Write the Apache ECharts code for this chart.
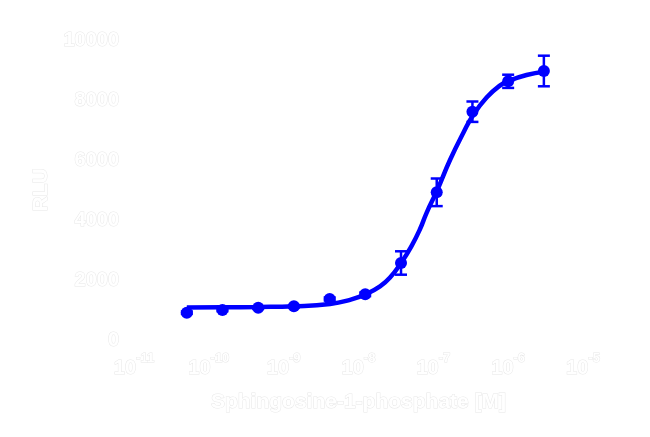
<!DOCTYPE html>
<html>
<head>
<meta charset="utf-8">
<script src="https://cdn.jsdelivr.net/npm/echarts@6/dist/echarts.min.js"></script>
<style>
html,body{margin:0;padding:0;background:#fff;}
#chart{width:650px;height:437px;}
</style>
</head>
<body>
<div id="chart"></div>
<script>
// Measured points (3-fold dilution series), molar concentration
const concentrationM = [5.08e-11, 1.52e-10, 4.57e-10, 1.37e-9, 4.12e-9, 1.23e-8, 3.70e-8, 1.11e-7, 3.33e-7, 1.0e-6, 3.0e-6];
const meanRLU = [910, 1000, 1077, 1123, 1367, 1523, 2567, 4923, 7610, 8623, 8967];
const errRLU = [40, 40, 40, 40, 50, 60, 390, 460, 340, 220, 510];

// Fitted curve
const fitConcentrationM = [5.08e-11, 1.52e-10, 4.59e-10, 1.38e-9, 4.17e-9, 7.71e-9, 1.26e-8, 1.94e-8, 2.64e-8, 3.78e-8, 5.13e-8, 6.62e-8, 8.13e-8, 1.13e-7, 1.67e-7, 2.51e-7, 3.41e-7, 5.15e-7, 7.74e-7, 1.03e-6, 1.76e-6, 3.0e-6];
const fitRLU = [1083, 1090, 1100, 1123, 1200, 1340, 1530, 1790, 2080, 2600, 3140, 3690, 4240, 5000, 6000, 6900, 7500, 8080, 8480, 8643, 8833, 8943];

// Axis ticks
const xTickBase = '10';
const xTickExponents = ['-11', '-10', '-9', '-8', '-7', '-6', '-5'];
const yTicks = [0, 2000, 4000, 6000, 8000, 10000];

const xTitle = 'Sphingosine-1-phosphate [M]';
const yTitle = 'RLU';

const BLUE = '#0000ff';
const textStyleBase = {
  color: '#ffffff',
  fontFamily: 'Liberation Sans, Arial, sans-serif',
  fontWeight: 'bold',
  textBorderColor: '#e8e8e8',
  textBorderWidth: 1
};

const points = concentrationM.map((c, i) => [Math.log10(c), meanRLU[i], errRLU[i]]);
const fitLine = fitConcentrationM.map((c, i) => [Math.log10(c), fitRLU[i]]);
const xMinExp = parseInt(xTickExponents[0], 10);
const xMaxExp = parseInt(xTickExponents[xTickExponents.length - 1], 10);

const chart = echarts.init(document.getElementById('chart'));
chart.setOption({
  backgroundColor: '#ffffff',
  animation: false,
  grid: { left: 134, right: 67, top: 40, bottom: 97 },
  xAxis: {
    type: 'value',
    min: xMinExp,
    max: xMaxExp,
    interval: 1,
    splitLine: { show: false },
    axisLine: { show: true, lineStyle: { color: '#ffffff', width: 2 } },
    axisTick: { show: true, lineStyle: { color: '#ffffff', width: 2 } },
    axisLabel: {
      margin: 12,
      formatter: (v) => {
        const idx = Math.round(v - xMinExp);
        return '{b|' + xTickBase + '}{s|' + xTickExponents[idx] + '}';
      },
      rich: {
        b: Object.assign({}, textStyleBase, { fontSize: 20, lineHeight: 26, verticalAlign: 'bottom' }),
        s: Object.assign({}, textStyleBase, { fontSize: 13, lineHeight: 26, verticalAlign: 'top' })
      }
    },
    name: xTitle,
    nameLocation: 'middle',
    nameGap: 52,
    nameTextStyle: Object.assign({}, textStyleBase, { fontSize: 21 })
  },
  yAxis: {
    type: 'value',
    min: yTicks[0],
    max: yTicks[yTicks.length - 1],
    interval: yTicks[1] - yTicks[0],
    splitLine: { show: false },
    axisLine: { show: true, lineStyle: { color: '#ffffff', width: 2 } },
    axisTick: { show: true, lineStyle: { color: '#ffffff', width: 2 } },
    axisLabel: Object.assign({}, textStyleBase, { fontSize: 20, margin: 15, formatter: (v) => String(v) }),
    name: yTitle,
    nameLocation: 'middle',
    nameRotate: 90,
    nameGap: 82,
    nameTextStyle: Object.assign({}, textStyleBase, { fontSize: 21 })
  },
  series: [
    {
      type: 'line',
      data: fitLine,
      smooth: 0.5,
      showSymbol: false,
      symbol: 'none',
      lineStyle: { color: BLUE, width: 4.5 },
      z: 2
    },
    {
      type: 'custom',
      data: points,
      z: 3,
      renderItem: (params, api) => {
        const x = api.value(0), y = api.value(1), e = api.value(2);
        const top = api.coord([x, y + e]);
        const bot = api.coord([x, y - e]);
        const hw = 6;
        const style = { stroke: BLUE, lineWidth: 2.5 };
        return {
          type: 'group',
          children: [
            { type: 'line', shape: { x1: top[0], y1: top[1], x2: bot[0], y2: bot[1] }, style },
            { type: 'line', shape: { x1: top[0] - hw, y1: top[1], x2: top[0] + hw, y2: top[1] }, style },
            { type: 'line', shape: { x1: bot[0] - hw, y1: bot[1], x2: bot[0] + hw, y2: bot[1] }, style }
          ]
        };
      }
    },
    {
      type: 'scatter',
      data: points.map(p => [p[0], p[1]]),
      symbol: 'circle',
      symbolSize: 12,
      itemStyle: { color: BLUE, opacity: 1 },
      z: 4
    }
  ]
});
</script>
</body>
</html>
